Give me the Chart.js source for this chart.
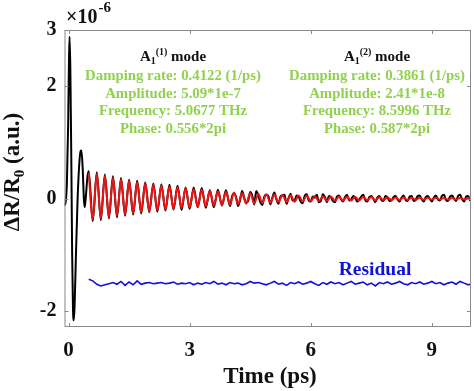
<!DOCTYPE html>
<html>
<head>
<meta charset="utf-8">
<script src="https://cdn.jsdelivr.net/npm/chart.js@4.4.1/dist/chart.umd.min.js"></script>
<style>
  html, body { margin: 0; padding: 0; background: #fff; }
  canvas { display: block; }
</style>
</head>
<body>
<canvas id="trChart" width="474" height="391"></canvas>
<script>
// time axis (ps) and ticks
var xTicks = [0, 3, 6, 9];
var yTicks = [-2, 0, 2, 3];

// measured signal (x1e-6), black
var measTime = [
  -0.10, -0.07, -0.04, -0.01, 0.01, 0.025, 0.045, 0.07, 0.09, 0.11, 0.13, 0.15, 0.18, 0.22, 0.26, 0.30, 0.32, 0.35, 0.38, 0.40, 0.43, 0.47, 0.50,
  0.6, 0.7, 0.8, 0.9, 1.0, 1.1, 1.2, 1.3, 1.4, 1.5, 1.6, 1.7, 1.8, 1.9, 2.0, 2.1, 2.2, 2.3, 2.4, 2.5, 2.6, 2.7, 2.8, 2.9,
  3.0, 3.1, 3.2, 3.3, 3.4, 3.5, 3.6, 3.7, 3.8, 3.9, 4.0,
  4.05, 4.10, 4.15, 4.20, 4.25, 4.30, 4.35, 4.40, 4.45, 4.50, 4.55, 4.60, 4.65, 4.70, 4.75, 4.80, 4.85, 4.90, 4.95, 5.00,
  5.05, 5.10, 5.15, 5.20, 5.25, 5.30, 5.35, 5.40, 5.45, 5.50, 5.55, 5.60, 5.65, 5.70, 5.75, 5.80, 5.85, 5.90, 5.95, 6.00,
  6.05, 6.10, 6.15, 6.20, 6.25, 6.30, 6.35, 6.40, 6.45, 6.50, 6.55, 6.60, 6.65, 6.70, 6.75, 6.80, 6.85, 6.90, 6.95, 7.00,
  7.05, 7.10, 7.15, 7.20, 7.25, 7.30, 7.35, 7.40, 7.45, 7.50, 7.55, 7.60, 7.65, 7.70, 7.75, 7.80, 7.85, 7.90, 7.95, 8.00,
  8.05, 8.10, 8.15, 8.20, 8.25, 8.30, 8.35, 8.40, 8.45, 8.50, 8.55, 8.60, 8.65, 8.70, 8.75, 8.80, 8.85, 8.90, 8.95, 9.00,
  9.05, 9.10, 9.15, 9.20, 9.25, 9.30, 9.35, 9.40, 9.45, 9.50, 9.55, 9.60, 9.65, 9.70, 9.75, 9.80, 9.85, 9.90, 9.95, 10.00
];
var measValue = [
  -0.12, -0.05, 0.3, 1.3, 2.4, 2.88, 2.3, 0.6, -1.0, -1.95, -2.16, -1.9, -1.1, -0.1, 0.55, 0.85, 0.86, 0.55, 0.0, -0.15, 0.05, 0.4, 0.49,
  -0.40, 0.47, -0.38, 0.43, -0.35, 0.40, -0.33, 0.37, -0.30, 0.34, -0.28, 0.32, -0.26, 0.29, -0.24, 0.27, -0.23, 0.26, -0.21, 0.25, -0.19, 0.23, -0.20, 0.20,
  -0.18, 0.20, -0.15, 0.19, -0.16, 0.15, -0.15, 0.16, -0.12, 0.15, -0.13,
  0.04, 0.10, 0.03, -0.13, -0.02, 0.14, 0.02, -0.07, -0.04, 0.12, 0.06, -0.10, 0.14, 0.06, -0.06, -0.11, 0.04, 0.07, 0.05, -0.10,
  0.02, 0.11, -0.01, -0.09, 0.04, 0.06, 0.07, -0.09, 0.01, 0.09, -0.03, -0.03, 0.06, 0.04, -0.05, -0.08, 0.05, 0.08, -0.03, -0.05,
  0.04, 0.02, 0.07, -0.06, -0.04, 0.08, 0.03, -0.06, 0.05, 0.03, -0.04, -0.06, 0.04, 0.06, -0.01, -0.05, 0.03, 0.07, -0.03, -0.02,
  0.05, 0.02, -0.05, -0.02, 0.04, 0.07, -0.02, -0.05, 0.03, 0.05, 0.00, -0.06, 0.02, 0.05, -0.02, -0.04, 0.05, 0.03, -0.04, -0.03,
  0.03, 0.05, -0.01, -0.05, 0.02, 0.06, -0.02, -0.04, 0.04, 0.05, -0.04, -0.02, 0.05, 0.06, -0.01, -0.05, 0.03, 0.05, 0.00, -0.05,
  0.02, 0.06, -0.01, -0.03, 0.05, 0.07, -0.02, -0.04, 0.04, 0.06, 0.00, -0.04, 0.05, 0.07, -0.01, -0.05, 0.04, 0.05, -0.03, -0.02
];

// fit and residual share the same time grid
var oscTime = [
  0.5, 0.6, 0.7, 0.8, 0.9, 1.0, 1.1, 1.2, 1.3, 1.4,
  1.5, 1.6, 1.7, 1.8, 1.9, 2.0, 2.1, 2.2, 2.3, 2.4,
  2.5, 2.6, 2.7, 2.8, 2.9, 3.0, 3.1, 3.2, 3.3, 3.4,
  3.5, 3.6, 3.7, 3.8, 3.9, 4.0, 4.1, 4.2, 4.3, 4.4,
  4.5, 4.6, 4.7, 4.8, 4.9, 5.0, 5.1, 5.2, 5.3, 5.4,
  5.5, 5.6, 5.7, 5.8, 5.9, 6.0, 6.1, 6.2, 6.3, 6.4,
  6.5, 6.6, 6.7, 6.8, 6.9, 7.0, 7.1, 7.2, 7.3, 7.4,
  7.5, 7.6, 7.7, 7.8, 7.9, 8.0, 8.1, 8.2, 8.3, 8.4,
  8.5, 8.6, 8.7, 8.8, 8.9, 9.0, 9.1, 9.2, 9.3, 9.4,
  9.5, 9.6, 9.7, 9.8, 9.9, 10.0
];
// two-mode fit, red
var fitValue = [
  0.46, -0.37, 0.44, -0.35, 0.41, -0.325, 0.37, -0.30, 0.345, -0.275,
  0.315, -0.255, 0.295, -0.235, 0.27, -0.22, 0.25, -0.205, 0.237, -0.192,
  0.218, -0.178, 0.205, -0.165, 0.185, -0.153, 0.17, -0.145, 0.16, -0.135,
  0.148, -0.124, 0.135, -0.115, 0.124, -0.105, 0.113, -0.097, 0.104, -0.09,
  0.096, -0.082, 0.088, -0.075, 0.08, -0.069, 0.074, -0.063, 0.067, -0.058,
  0.061, -0.053, 0.057, -0.049, 0.053, -0.046, 0.048, -0.042, 0.044, -0.039,
  0.041, -0.036, 0.038, -0.033, 0.036, -0.032, 0.033, -0.030, 0.031, -0.028,
  0.029, -0.026, 0.027, -0.024, 0.025, -0.023, 0.022, -0.021, 0.021, -0.020,
  0.019, -0.019, 0.018, -0.017, 0.017, -0.016, 0.016, -0.015, 0.015, -0.015,
  0.014, -0.014, 0.014, -0.013, 0.013, -0.013
];
// residual (shifted down), blue
var resValue = [
  -1.43, -1.46, -1.52, -1.55, -1.53, -1.51, -1.49, -1.52, -1.47, -1.54,
  -1.48, -1.53, -1.46, -1.52, -1.50, -1.49, -1.51, -1.50, -1.49, -1.51,
  -1.50, -1.48, -1.52, -1.50, -1.51, -1.49, -1.53, -1.50, -1.52, -1.49,
  -1.51, -1.47, -1.52, -1.50, -1.53, -1.49, -1.51, -1.50, -1.53, -1.51,
  -1.47, -1.50, -1.49, -1.51, -1.53, -1.50, -1.47, -1.52, -1.50, -1.54,
  -1.49, -1.51, -1.48, -1.52, -1.50, -1.47, -1.51, -1.54, -1.49, -1.52,
  -1.48, -1.51, -1.49, -1.53, -1.50, -1.47, -1.52, -1.50, -1.48, -1.53,
  -1.50, -1.55, -1.49, -1.51, -1.48, -1.52, -1.50, -1.47, -1.51, -1.53,
  -1.49, -1.51, -1.48, -1.52, -1.50, -1.47, -1.51, -1.49, -1.53, -1.50,
  -1.48, -1.52, -1.47, -1.50, -1.53, -1.51
];

var green = '#92d050';
var serif = '"Liberation Serif", "Times New Roman", serif';

const pts = (xs, ys) => xs.map((x, i) => ({ x: x, y: ys[i] }));

// draws text pieces side by side, centred on cx, baseline at y
const richText = (ctx, parts, cx, y, color) => {
  var w = 0;
  parts.forEach(p => { ctx.font = 'bold ' + p[1] + 'px ' + serif; w += ctx.measureText(p[0]).width; });
  var x = cx - w / 2;
  ctx.fillStyle = color;
  ctx.textAlign = 'left';
  ctx.textBaseline = 'alphabetic';
  parts.forEach(p => {
    ctx.font = 'bold ' + p[1] + 'px ' + serif;
    ctx.fillText(p[0], x, y + (p[2] || 0));
    x += ctx.measureText(p[0]).width;
  });
};

const decor = {
  id: 'decor',
  afterDraw(chart) {
    var ctx = chart.ctx, a = chart.chartArea;
    var sx = chart.scales.x, sy = chart.scales.y;
    ctx.save();
    // box and inward ticks
    ctx.strokeStyle = '#8a8a8a';
    ctx.lineWidth = 1;
    ctx.strokeRect(a.left + 0.5, a.top + 0.5, a.right - a.left - 1, a.bottom - a.top - 1);
    ctx.beginPath();
    xTicks.forEach(v => {
      var px = Math.round(sx.getPixelForValue(v)) + 0.5;
      ctx.moveTo(px, a.bottom); ctx.lineTo(px, a.bottom - 4);
      ctx.moveTo(px, a.top); ctx.lineTo(px, a.top + 4);
    });
    yTicks.forEach(v => {
      var py = Math.round(sy.getPixelForValue(v)) + 0.5;
      ctx.moveTo(a.left, py); ctx.lineTo(a.left + 4, py);
      ctx.moveTo(a.right, py); ctx.lineTo(a.right - 4, py);
    });
    ctx.stroke();

    // exponent label
    ctx.fillStyle = '#111';
    ctx.textAlign = 'left';
    ctx.textBaseline = 'alphabetic';
    ctx.font = 'bold 20px ' + serif;
    ctx.fillText('\u00d710', 66, 23);
    var w10 = ctx.measureText('\u00d710').width;
    ctx.font = 'bold 15px ' + serif;
    ctx.fillText('-6', 66 + w10 + 1, 12);

    // y title
    ctx.save();
    ctx.translate(19, 172);
    ctx.rotate(-Math.PI / 2);
    richText(ctx, [['\u0394R/R', 23], ['0', 15, 5], [' (a.u.)', 23]], 0, 0, '#111');
    ctx.restore();

    // x title
    richText(ctx, [['Time (ps)', 23]], 270, 383, '#111');

    // mode annotations
    var blocks = [
      { cx: 173, sup: '(1)', lines: ['Damping rate: 0.4122 (1/ps)', 'Amplitude: 5.09*1e-7', 'Frequency: 5.0677 THz', 'Phase: 0.556*2pi'] },
      { cx: 377, sup: '(2)', lines: ['Damping rate: 0.3861 (1/ps)', 'Amplitude: 2.41*1e-8', 'Frequency: 8.5996 THz', 'Phase: 0.587*2pi'] }
    ];
    var rows = [80, 97.5, 115, 132.5];
    blocks.forEach(b => {
      richText(ctx, [['A', 15], ['1', 10, 3], [b.sup, 10, -6], [' mode', 15]], b.cx, 61, '#111');
      b.lines.forEach((t, i) => richText(ctx, [[t, 14.8]], b.cx, rows[i], green));
    });

    richText(ctx, [['Residual', 19.5]], 375, 275, '#1010e0');
    ctx.restore();
  }
};

new Chart(document.getElementById('trChart').getContext('2d'), {
  type: 'line',
  data: {
    datasets: [
      { label: 'fit', data: pts(oscTime, fitValue), borderColor: '#ee1212', borderWidth: 2, order: 0, cubicInterpolationMode: 'monotone' },
      { label: 'residual', data: pts(oscTime, resValue), borderColor: '#1010e0', borderWidth: 1.6, order: 1 },
      { label: 'measured', data: pts(measTime, measValue), borderColor: '#000000', borderWidth: 2, order: 2, cubicInterpolationMode: 'monotone' }
    ]
  },
  options: {
    responsive: false,
    animation: false,
    devicePixelRatio: 1,
    layout: { padding: { top: 30, right: 3, left: 0, bottom: 0 } },
    elements: { point: { radius: 0 }, line: { fill: false } },
    plugins: { legend: { display: false }, tooltip: { enabled: false } },
    scales: {
      x: {
        type: 'linear',
        min: -0.1,
        max: 9.97,
        grid: { display: false, drawTicks: false },
        border: { display: false },
        afterBuildTicks: s => { s.ticks = xTicks.map(v => ({ value: v })); },
        afterFit: s => { s.height = 64; },
        ticks: { padding: 11, color: '#111', font: { family: serif, weight: 'bold', size: 21 } }
      },
      y: {
        min: -2.28,
        max: 3,
        grid: { display: false, drawTicks: false },
        border: { display: false },
        afterBuildTicks: s => { s.ticks = yTicks.map(v => ({ value: v })); },
        afterFit: s => { s.width = 64.5; },
        ticks: { padding: 8, color: '#111', font: { family: serif, weight: 'bold', size: 20 } }
      }
    }
  },
  plugins: [decor]
});
</script>
</body>
</html>
